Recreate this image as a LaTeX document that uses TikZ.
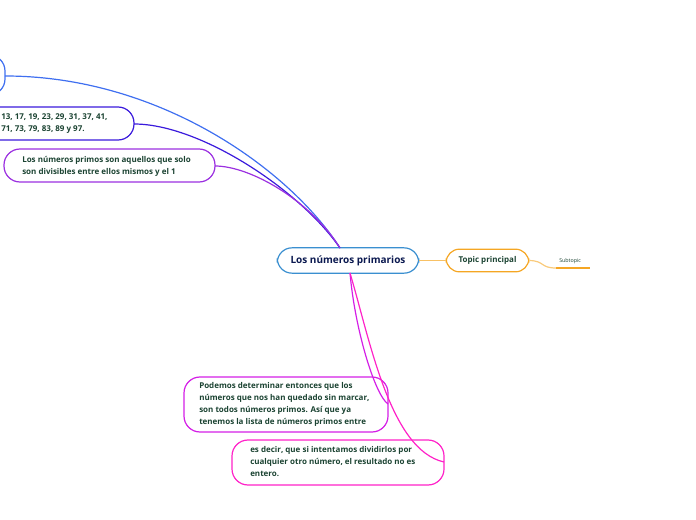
\documentclass[tikz,border=0pt]{standalone}
\usepackage{fontspec}
\setmainfont{Open Sans}
\definecolor{txt}{HTML}{1B4332}
\definecolor{cblue}{HTML}{3F6FF0}
\definecolor{cind}{HTML}{3A1ADC}
\definecolor{cpur}{HTML}{9B30E0}
\definecolor{cmag}{HTML}{D41EE6}
\definecolor{cpink}{HTML}{FF22C8}
\definecolor{cmain}{HTML}{3A8FD0}
\definecolor{corange}{HTML}{F5A623}
\begin{document}
\begin{tikzpicture}[x=0.75pt,y=-0.75pt,
  box/.style={draw,line width=0.9pt,rounded corners=12pt},
  lbl/.style={anchor=west,align=left,text=txt,font=\bfseries\fontsize{6}{9}\selectfont,inner sep=0pt},
  conn/.style={line width=0.9pt}]
\useasboundingbox (0,0) rectangle (696,520);
\clip (0,0) rectangle (696,520);
% nodes as shapes
\draw[box,cblue] (-120,55) rectangle (5,95);
\coordinate (n1) at (5,76);
\draw[box,cind] (-40,107) rectangle (134,140);
\coordinate (n2) at (134,124);
\node[lbl] at (1,124) {13, 17, 19, 23, 29, 31, 37, 41,\\71, 73, 79, 83, 89 y 97.};
\draw[box,cpur] (4,149) rectangle (215,182);
\coordinate (n3) at (215,166);
\node[lbl] at (22,166) {Los números primos son aquellos que solo\\son divisibles entre ellos mismos y el 1};
\node[draw=cmain,line width=0.9pt,rounded corners=11pt,minimum width=106pt,minimum height=19pt,text=txt!60!blue!60!black,font=\bfseries\fontsize{7.5}{9}\selectfont] (c) at (348,260.5) {Los números primarios};
\node[draw=corange,line width=0.9pt,rounded corners=10pt,minimum width=62pt,minimum height=17pt,text=txt,font=\bfseries\fontsize{6}{9}\selectfont] (t) at (487.5,260.5) {Topic principal};
\node[text=txt,font=\fontsize{4}{5}\selectfont,anchor=west,inner sep=0pt] (s) at (559,261) {Subtopic};
\coordinate (su) at (556,268);
\draw[corange,line width=0.9pt] (su) -- (590,268);
\draw[box,cmag] (184,377) rectangle (388,432);
\coordinate (n4) at (388,404);
\node[lbl] at (199,404) {Podemos determinar entonces que los\\números que nos han quedado sin marcar,\\son todos números primos. Así que ya\\tenemos la lista de números primos entre};
\draw[box,cpink] (232,440) rectangle (444,485);
\coordinate (n5) at (444,462);
\node[lbl] at (250,462) {es decir, que si intentamos dividirlos por\\cualquier otro número, el resultado no es\\entero.};
% connectors
\coordinate (ct) at (340,248);
\coordinate (cb) at (350,273);
\draw[conn,cblue] (n1) .. controls (160,76) and (290,170) .. (ct);
\draw[conn,cind] (n2) .. controls (200,124) and (300,190) .. (ct);
\draw[conn,cpur] (n3) .. controls (250,166) and (310,200) .. (ct);
\draw[conn,cmag] (n4) .. controls (375,395) and (355,330) .. (cb);
\draw[conn,cpink] (n5) .. controls (390,450) and (370,340) .. (cb);
\draw[conn,corange!70] (c.east) -- (t.west);
\draw[conn,corange!60] (t.east) .. controls (545,261) and (540,268) .. (su);
\end{tikzpicture}
\end{document}
